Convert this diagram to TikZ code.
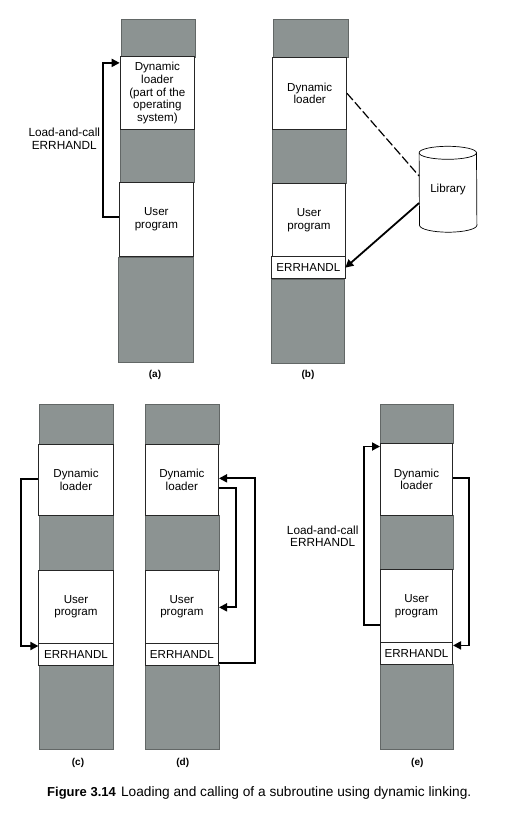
\documentclass[tikz,border=0pt]{standalone}
\usepackage{fontspec}
\setmainfont{Liberation Sans}
\usetikzlibrary{arrows.meta,calc}
\definecolor{memgray}{HTML}{8C9392}
\newcommand{\blk}[7]{%
  \pgfmathsetmacro{\bw}{#5-#3}\pgfmathsetmacro{\bh}{#6-#4}%
  \pgfmathsetmacro{\bx}{(#5+#3)/2}\pgfmathsetmacro{\by}{(#6+#4)/2}%
  \node[#2,minimum width=\bw pt,minimum height=\bh pt] (#1) at (\bx,\by) {#7};}
\tikzset{
  graybk/.style={draw=memgray!70!black,line width=0.4pt,fill=memgray,inner sep=0pt},
  whitebk/.style={draw=black!85,line width=0.6pt,fill=white,inner sep=0pt,align=center,font=\fontsize{11.6}{12.8}\selectfont},
  lbl/.style={align=center,font=\fontsize{11.8}{12.5}\selectfont,inner sep=0pt},
  sub/.style={font=\bfseries\fontsize{10}{12}\selectfont,inner sep=0pt},
  conn/.style={line width=1.8pt,line join=miter,-{Triangle[length=8pt,width=8pt]}}
}
\begin{document}
\begin{tikzpicture}[x=1pt,y=-1pt]
\useasboundingbox (0,0) rectangle (505,814);
% (a)
\blk{agt}{graybk}{120.7}{19}{195.3}{56.7}{}
\blk{agm}{graybk}{120}{129.3}{194.5}{182.3}{}
\blk{agb}{graybk}{118.3}{256.7}{192.7}{362}{}
\blk{ad}{whitebk}{120}{56.7}{194.7}{129.3}{Dynamic\\loader\\(part of the\\operating\\system)}
\blk{au}{whitebk}{119}{182.3}{193.7}{256.7}{User\\program}
\coordinate (ac) at (102.7,217);
\draw[conn] (au.west |- ac) -- (ac) |- ([yshift=-6.5pt]ad.north west);
\node[lbl] (al) at (64.3,138.5) {Load-and-call\\ERRHANDL};
\node[sub] (as) at (155,375) {(a)};
% (b)
\blk{bgt}{graybk}{273.3}{19}{347.7}{57.3}{}
\blk{bgm}{graybk}{272.5}{129.3}{346.5}{183.3}{}
\blk{bgb}{graybk}{270.7}{278.7}{344.3}{363.3}{}
\blk{bd}{whitebk}{272.7}{57.3}{346.7}{129.3}{Dynamic\\loader}
\blk{bu}{whitebk}{272.3}{183.3}{345.7}{256.7}{User\\program}
\blk{be}{whitebk}{271.7}{256.7}{345}{278.7}{ERRHANDL}
\node[sub] (bs) at (308,375) {(b)};
\node[minimum width=57.4pt,minimum height=72pt,inner sep=0pt,font=\fontsize{11.6}{13}\selectfont] (lib) at (448,189) {Library};
\draw[line width=0.7pt] (lib.north west) arc[start angle=180,end angle=0,x radius=28.7pt,y radius=6.5pt]
  -- (lib.south east) arc[start angle=0,end angle=-180,x radius=28.7pt,y radius=7pt] -- cycle;
\draw[line width=0.7pt] (lib.north west) arc[start angle=180,end angle=360,x radius=28.7pt,y radius=6.5pt];
\draw[line width=1.2pt,dash pattern=on 9pt off 3pt] (bd.east) -- ([yshift=13pt]lib.west);
\draw[conn] ([yshift=-14pt]lib.west) -- (be.east);
% (c)
\blk{cgt}{graybk}{38.7}{404.3}{113.3}{444}{}
\blk{cgm}{graybk}{38.7}{515.3}{113.3}{570}{}
\blk{cgb}{graybk}{38.7}{665.3}{113.3}{749.3}{}
\blk{cd}{whitebk}{38.7}{444}{113.3}{515.3}{Dynamic\\loader}
\blk{cu}{whitebk}{38.7}{570}{113.3}{643.3}{User\\program}
\blk{ce}{whitebk}{38.7}{643.3}{113.3}{665.3}{ERRHANDL}
\coordinate (cc) at (21,646);
\draw[conn] ([yshift=1pt]cd.west) -| (cc) -- (ce.west |- cc);
\node[sub] (cs) at (78,763) {(c)};
% (d)
\blk{dgt}{graybk}{145}{404.3}{218.7}{444}{}
\blk{dgm}{graybk}{145}{515.3}{218.7}{570}{}
\blk{dgb}{graybk}{145}{665.3}{218.7}{749.3}{}
\blk{dd}{whitebk}{145}{444}{218.7}{515.3}{Dynamic\\loader}
\blk{du}{whitebk}{145}{570}{218.7}{643.3}{User\\program}
\blk{de}{whitebk}{145}{643.3}{218.7}{665.3}{ERRHANDL}
\coordinate (d1) at (255.2,663);
\coordinate (d2) at (236,488);
\draw[conn] (de.east |- d1) -- (d1) |- ([yshift=1.3pt]dd.east);
\draw[conn] (dd.east |- d2) -- (d2) |- ([yshift=-0.7pt]du.east);
\node[sub] (ds) at (182.7,763) {(d)};
% (e)
\blk{egt}{graybk}{380.3}{404.3}{452.7}{443.3}{}
\blk{egm}{graybk}{380.3}{515.3}{452.7}{569.3}{}
\blk{egb}{graybk}{380.3}{664.3}{452.7}{748.7}{}
\blk{ed}{whitebk}{380.3}{443.3}{452.7}{515.3}{Dynamic\\loader}
\blk{eu}{whitebk}{380.3}{569.3}{452.7}{642.7}{User\\program}
\blk{ee}{whitebk}{380.3}{642.7}{452.7}{664.3}{ERRHANDL}
\coordinate (e1) at (364,625);
\coordinate (e2) at (469,478);
\draw[conn] (eu.west |- e1) -- (e1) |- ([yshift=-3.5pt]ed.north west);
\draw[conn] (ed.east |- e2) -- (e2) |- ([yshift=-3pt]ee.north east);
\node[lbl] (el) at (322.7,536.3) {Load-and-call\\ERRHANDL};
\node[sub] (es) at (417.3,763) {(e)};
% caption
\node[anchor=base west,inner sep=0pt] (cap) at (47,796) {\fontsize{13}{15}\selectfont\textbf{Figure 3.14}\hspace{0.4em}\fontsize{13.7}{15}\selectfont Loading and calling of a subroutine using dynamic linking.};
\end{tikzpicture}
\end{document}
